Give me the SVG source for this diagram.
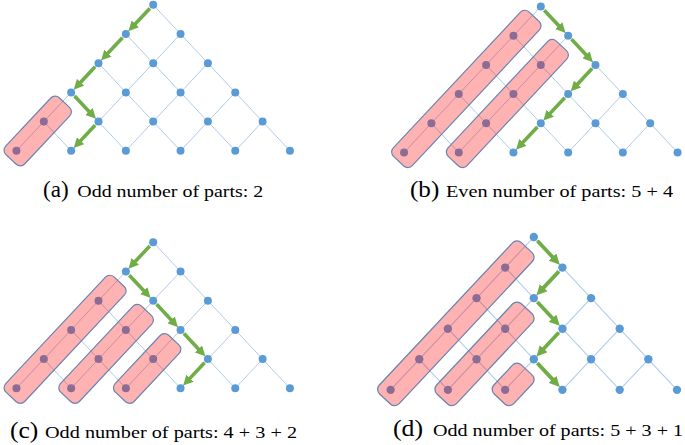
<svg xmlns="http://www.w3.org/2000/svg" width="685" height="445" viewBox="0 0 685 445">
<defs>
<style>
.lat{fill:none;stroke:#afcbea;stroke-width:1}
.arr{fill:none;stroke:#70ad47;stroke-width:3.6;marker-end:url(#ah)}
.nd circle{fill:#5b9bd5}
.box{fill:#ff0000;fill-opacity:0.3;stroke:#6a84b0;stroke-width:1.2}
.lbl{font-size:23px;fill:#000}
.cap{font-size:17.5px;fill:#000}
</style>
<marker id="ah" viewBox="0 0 10 10" refX="3.3" refY="5" markerWidth="2.8" markerHeight="2.8" orient="auto"><path d="M0,0L10,5L0,10z" fill="#70ad47"/></marker>
</defs>
<rect width="685" height="445" fill="#fff"/>

<!-- Panel (a) -->
<g id="panel-a" transform="translate(153.2,4.8)">
<g id="a-connectors">
<path class="lat" d="M0,0L-136.75,146M27.35,29.2L-82.05,146M54.7,58.4L-27.35,146M82.05,87.6L27.35,146M109.4,116.8L82.05,146M0,0L136.75,146M-27.35,29.2L82.05,146M-54.7,58.4L27.35,146M-82.05,87.6L-27.35,146M-109.4,116.8L-82.05,146"/>
<line class="arr" x1="-3.42" y1="3.65" x2="-20.17" y2="21.54"/>
<line class="arr" x1="-30.77" y1="32.85" x2="-47.52" y2="50.74"/>
<line class="arr" x1="-58.12" y1="62.05" x2="-74.87" y2="79.94"/>
<line class="arr" x1="-78.63" y1="91.25" x2="-61.88" y2="109.14"/>
<line class="arr" x1="-58.12" y1="120.45" x2="-74.87" y2="138.34"/>
</g>
<g id="a-n0-0" class="nd"><circle cx="0" cy="0" r="4"/></g>
<g id="a-n1-0" class="nd"><circle cx="-27.35" cy="29.2" r="4"/></g>
<g id="a-n1-1" class="nd"><circle cx="27.35" cy="29.2" r="4"/></g>
<g id="a-n2-0" class="nd"><circle cx="-54.7" cy="58.4" r="4"/></g>
<g id="a-n2-1" class="nd"><circle cx="0" cy="58.4" r="4"/></g>
<g id="a-n2-2" class="nd"><circle cx="54.7" cy="58.4" r="4"/></g>
<g id="a-n3-0" class="nd"><circle cx="-82.05" cy="87.6" r="4"/></g>
<g id="a-n3-1" class="nd"><circle cx="-27.35" cy="87.6" r="4"/></g>
<g id="a-n3-2" class="nd"><circle cx="27.35" cy="87.6" r="4"/></g>
<g id="a-n3-3" class="nd"><circle cx="82.05" cy="87.6" r="4"/></g>
<g id="a-n4-0" class="nd"><circle cx="-109.4" cy="116.8" r="4"/></g>
<g id="a-n4-1" class="nd"><circle cx="-54.7" cy="116.8" r="4"/></g>
<g id="a-n4-2" class="nd"><circle cx="0" cy="116.8" r="4"/></g>
<g id="a-n4-3" class="nd"><circle cx="54.7" cy="116.8" r="4"/></g>
<g id="a-n4-4" class="nd"><circle cx="109.4" cy="116.8" r="4"/></g>
<g id="a-n5-0" class="nd"><circle cx="-136.75" cy="146" r="4"/></g>
<g id="a-n5-1" class="nd"><circle cx="-82.05" cy="146" r="4"/></g>
<g id="a-n5-2" class="nd"><circle cx="-27.35" cy="146" r="4"/></g>
<g id="a-n5-3" class="nd"><circle cx="27.35" cy="146" r="4"/></g>
<g id="a-n5-4" class="nd"><circle cx="82.05" cy="146" r="4"/></g>
<g id="a-n5-5" class="nd"><circle cx="136.75" cy="146" r="4"/></g>
<g id="a-part1"><rect class="box" x="-10" y="-11" width="78" height="26" rx="6" transform="translate(-136.75,146) rotate(-46.87)"/></g>
</g>

<!-- Panel (b) -->
<g id="panel-b" transform="translate(540.8,6.5)">
<g id="b-connectors">
<path class="lat" d="M0,0L-136.75,146M27.35,29.2L-82.05,146M54.7,58.4L-27.35,146M82.05,87.6L27.35,146M109.4,116.8L82.05,146M0,0L136.75,146M-27.35,29.2L82.05,146M-54.7,58.4L27.35,146M-82.05,87.6L-27.35,146M-109.4,116.8L-82.05,146"/>
<line class="arr" x1="3.42" y1="3.65" x2="20.17" y2="21.54"/>
<line class="arr" x1="30.77" y1="32.85" x2="47.52" y2="50.74"/>
<line class="arr" x1="51.28" y1="62.05" x2="34.53" y2="79.94"/>
<line class="arr" x1="23.93" y1="91.25" x2="7.18" y2="109.14"/>
<line class="arr" x1="-3.42" y1="120.45" x2="-20.17" y2="138.34"/>
</g>
<g id="b-n0-0" class="nd"><circle cx="0" cy="0" r="4"/></g>
<g id="b-n1-0" class="nd"><circle cx="-27.35" cy="29.2" r="4"/></g>
<g id="b-n1-1" class="nd"><circle cx="27.35" cy="29.2" r="4"/></g>
<g id="b-n2-0" class="nd"><circle cx="-54.7" cy="58.4" r="4"/></g>
<g id="b-n2-1" class="nd"><circle cx="0" cy="58.4" r="4"/></g>
<g id="b-n2-2" class="nd"><circle cx="54.7" cy="58.4" r="4"/></g>
<g id="b-n3-0" class="nd"><circle cx="-82.05" cy="87.6" r="4"/></g>
<g id="b-n3-1" class="nd"><circle cx="-27.35" cy="87.6" r="4"/></g>
<g id="b-n3-2" class="nd"><circle cx="27.35" cy="87.6" r="4"/></g>
<g id="b-n3-3" class="nd"><circle cx="82.05" cy="87.6" r="4"/></g>
<g id="b-n4-0" class="nd"><circle cx="-109.4" cy="116.8" r="4"/></g>
<g id="b-n4-1" class="nd"><circle cx="-54.7" cy="116.8" r="4"/></g>
<g id="b-n4-2" class="nd"><circle cx="0" cy="116.8" r="4"/></g>
<g id="b-n4-3" class="nd"><circle cx="54.7" cy="116.8" r="4"/></g>
<g id="b-n4-4" class="nd"><circle cx="109.4" cy="116.8" r="4"/></g>
<g id="b-n5-0" class="nd"><circle cx="-136.75" cy="146" r="4"/></g>
<g id="b-n5-1" class="nd"><circle cx="-82.05" cy="146" r="4"/></g>
<g id="b-n5-2" class="nd"><circle cx="-27.35" cy="146" r="4"/></g>
<g id="b-n5-3" class="nd"><circle cx="27.35" cy="146" r="4"/></g>
<g id="b-n5-4" class="nd"><circle cx="82.05" cy="146" r="4"/></g>
<g id="b-n5-5" class="nd"><circle cx="136.75" cy="146" r="4"/></g>
<g id="b-part1"><rect class="box" x="-10" y="-11" width="198" height="26" rx="6" transform="translate(-136.75,146) rotate(-46.87)"/></g>
<g id="b-part2"><rect class="box" x="-10" y="-11" width="158" height="26" rx="6" transform="translate(-82.05,146) rotate(-46.87)"/></g>
</g>

<!-- Panel (c) -->
<g id="panel-c" transform="translate(153.2,242.3)">
<g id="c-connectors">
<path class="lat" d="M0,0L-136.75,146M27.35,29.2L-82.05,146M54.7,58.4L-27.35,146M82.05,87.6L27.35,146M109.4,116.8L82.05,146M0,0L136.75,146M-27.35,29.2L82.05,146M-54.7,58.4L27.35,146M-82.05,87.6L-27.35,146M-109.4,116.8L-82.05,146"/>
<line class="arr" x1="-3.42" y1="3.65" x2="-20.17" y2="21.54"/>
<line class="arr" x1="-23.93" y1="32.85" x2="-7.18" y2="50.74"/>
<line class="arr" x1="3.42" y1="62.05" x2="20.17" y2="79.94"/>
<line class="arr" x1="30.77" y1="91.25" x2="47.52" y2="109.14"/>
<line class="arr" x1="51.28" y1="120.45" x2="34.53" y2="138.34"/>
</g>
<g id="c-n0-0" class="nd"><circle cx="0" cy="0" r="4"/></g>
<g id="c-n1-0" class="nd"><circle cx="-27.35" cy="29.2" r="4"/></g>
<g id="c-n1-1" class="nd"><circle cx="27.35" cy="29.2" r="4"/></g>
<g id="c-n2-0" class="nd"><circle cx="-54.7" cy="58.4" r="4"/></g>
<g id="c-n2-1" class="nd"><circle cx="0" cy="58.4" r="4"/></g>
<g id="c-n2-2" class="nd"><circle cx="54.7" cy="58.4" r="4"/></g>
<g id="c-n3-0" class="nd"><circle cx="-82.05" cy="87.6" r="4"/></g>
<g id="c-n3-1" class="nd"><circle cx="-27.35" cy="87.6" r="4"/></g>
<g id="c-n3-2" class="nd"><circle cx="27.35" cy="87.6" r="4"/></g>
<g id="c-n3-3" class="nd"><circle cx="82.05" cy="87.6" r="4"/></g>
<g id="c-n4-0" class="nd"><circle cx="-109.4" cy="116.8" r="4"/></g>
<g id="c-n4-1" class="nd"><circle cx="-54.7" cy="116.8" r="4"/></g>
<g id="c-n4-2" class="nd"><circle cx="0" cy="116.8" r="4"/></g>
<g id="c-n4-3" class="nd"><circle cx="54.7" cy="116.8" r="4"/></g>
<g id="c-n4-4" class="nd"><circle cx="109.4" cy="116.8" r="4"/></g>
<g id="c-n5-0" class="nd"><circle cx="-136.75" cy="146" r="4"/></g>
<g id="c-n5-1" class="nd"><circle cx="-82.05" cy="146" r="4"/></g>
<g id="c-n5-2" class="nd"><circle cx="-27.35" cy="146" r="4"/></g>
<g id="c-n5-3" class="nd"><circle cx="27.35" cy="146" r="4"/></g>
<g id="c-n5-4" class="nd"><circle cx="82.05" cy="146" r="4"/></g>
<g id="c-n5-5" class="nd"><circle cx="136.75" cy="146" r="4"/></g>
<g id="c-part1"><rect class="box" x="-10" y="-11" width="158" height="26" rx="6" transform="translate(-136.75,146) rotate(-46.87)"/></g>
<g id="c-part2"><rect class="box" x="-10" y="-11" width="118" height="26" rx="6" transform="translate(-82.05,146) rotate(-46.87)"/></g>
<g id="c-part3"><rect class="box" x="-10" y="-11" width="78" height="26" rx="6" transform="translate(-27.35,146) rotate(-46.87)"/></g>
</g>

<!-- Panel (d) -->
<g id="panel-d" transform="translate(533.8,237) scale(1.047)">
<g id="d-connectors">
<path class="lat" d="M0,0L-136.75,146M27.35,29.2L-82.05,146M54.7,58.4L-27.35,146M82.05,87.6L27.35,146M109.4,116.8L82.05,146M0,0L136.75,146M-27.35,29.2L82.05,146M-54.7,58.4L27.35,146M-82.05,87.6L-27.35,146M-109.4,116.8L-82.05,146"/>
<line class="arr" x1="3.42" y1="3.65" x2="20.17" y2="21.54"/>
<line class="arr" x1="23.93" y1="32.85" x2="7.18" y2="50.74"/>
<line class="arr" x1="3.42" y1="62.05" x2="20.17" y2="79.94"/>
<line class="arr" x1="23.93" y1="91.25" x2="7.18" y2="109.14"/>
<line class="arr" x1="3.42" y1="120.45" x2="20.17" y2="138.34"/>
</g>
<g id="d-n0-0" class="nd"><circle cx="0" cy="0" r="4"/></g>
<g id="d-n1-0" class="nd"><circle cx="-27.35" cy="29.2" r="4"/></g>
<g id="d-n1-1" class="nd"><circle cx="27.35" cy="29.2" r="4"/></g>
<g id="d-n2-0" class="nd"><circle cx="-54.7" cy="58.4" r="4"/></g>
<g id="d-n2-1" class="nd"><circle cx="0" cy="58.4" r="4"/></g>
<g id="d-n2-2" class="nd"><circle cx="54.7" cy="58.4" r="4"/></g>
<g id="d-n3-0" class="nd"><circle cx="-82.05" cy="87.6" r="4"/></g>
<g id="d-n3-1" class="nd"><circle cx="-27.35" cy="87.6" r="4"/></g>
<g id="d-n3-2" class="nd"><circle cx="27.35" cy="87.6" r="4"/></g>
<g id="d-n3-3" class="nd"><circle cx="82.05" cy="87.6" r="4"/></g>
<g id="d-n4-0" class="nd"><circle cx="-109.4" cy="116.8" r="4"/></g>
<g id="d-n4-1" class="nd"><circle cx="-54.7" cy="116.8" r="4"/></g>
<g id="d-n4-2" class="nd"><circle cx="0" cy="116.8" r="4"/></g>
<g id="d-n4-3" class="nd"><circle cx="54.7" cy="116.8" r="4"/></g>
<g id="d-n4-4" class="nd"><circle cx="109.4" cy="116.8" r="4"/></g>
<g id="d-n5-0" class="nd"><circle cx="-136.75" cy="146" r="4"/></g>
<g id="d-n5-1" class="nd"><circle cx="-82.05" cy="146" r="4"/></g>
<g id="d-n5-2" class="nd"><circle cx="-27.35" cy="146" r="4"/></g>
<g id="d-n5-3" class="nd"><circle cx="27.35" cy="146" r="4"/></g>
<g id="d-n5-4" class="nd"><circle cx="82.05" cy="146" r="4"/></g>
<g id="d-n5-5" class="nd"><circle cx="136.75" cy="146" r="4"/></g>
<g id="d-part1"><rect class="box" x="-10" y="-11" width="198" height="26" rx="6" transform="translate(-136.75,146) rotate(-46.87)"/></g>
<g id="d-part2"><rect class="box" x="-10" y="-11" width="118" height="26" rx="6" transform="translate(-82.05,146) rotate(-46.87)"/></g>
<g id="d-part3"><rect class="box" x="-10" y="-11" width="38" height="26" rx="6" transform="translate(-27.35,146) rotate(-46.87)"/></g>
</g>

<!-- Captions -->
<g id="captions" font-family="'Liberation Serif', 'DejaVu Serif', serif">
<text class="lbl" x="43" y="197" textLength="25.7" lengthAdjust="spacingAndGlyphs">(a)</text>
<text class="cap" x="77.3" y="197" textLength="186" lengthAdjust="spacingAndGlyphs">Odd number of parts: 2</text>
<text class="lbl" x="410" y="196.5" textLength="29.3" lengthAdjust="spacingAndGlyphs">(b)</text>
<text class="cap" x="446" y="196.5" textLength="227" lengthAdjust="spacingAndGlyphs">Even number of parts: 5 + 4</text>
<text class="lbl" x="10" y="438" textLength="28.3" lengthAdjust="spacingAndGlyphs">(c)</text>
<text class="cap" x="45" y="438" textLength="252" lengthAdjust="spacingAndGlyphs">Odd number of parts: 4 + 3 + 2</text>
<text class="lbl" x="393" y="436" textLength="30" lengthAdjust="spacingAndGlyphs">(d)</text>
<text class="cap" x="433" y="436" textLength="250" lengthAdjust="spacingAndGlyphs">Odd number of parts: 5 + 3 + 1</text>
</g>
</svg>
